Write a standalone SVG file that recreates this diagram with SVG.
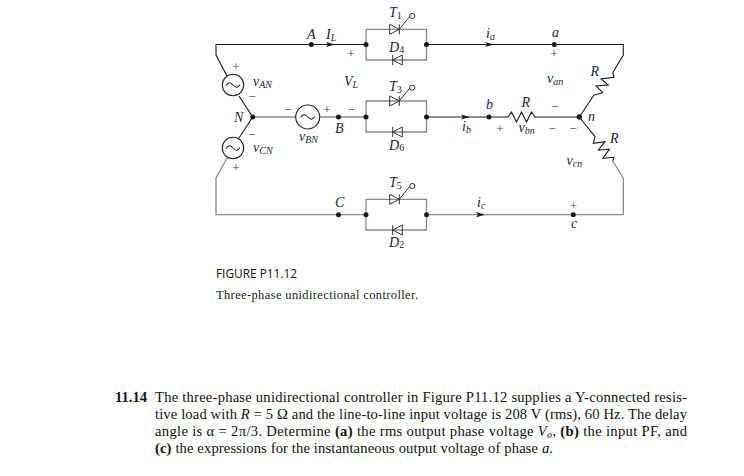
<svg xmlns="http://www.w3.org/2000/svg" width="744" height="476" viewBox="0 0 744 476">
<style>
.k{fill:none;stroke:#1a1a1a;stroke-width:1.1}
.g{fill:none;stroke:#8a8a8a;stroke-width:1.3}
.d{fill:#1a1a1a;stroke:none}
.src{fill:#fff;stroke:#222;stroke-width:1.1}
.dev{fill:none;stroke:#333;stroke-width:1}
text{font-family:"Liberation Serif",serif;fill:#1c2440}
.l{font-size:14px;font-style:italic}
.s{font-size:13px;fill:#444}
.sub{font-size:10px}
.cap{font-size:12.5px;fill:#222}
.fig{font-family:"Open Sans","Liberation Sans",sans-serif;font-size:12px;fill:#111}
.p{font-size:14.6px;fill:#111}
.b{font-weight:bold}
.i{font-style:italic}
</style>
<defs>
<g id="thy"><path class="dev" d="M-9.6-5L0 0L-9.6 5Z M0-5V5 M0 0L10.5-13"/><circle class="dev" cx="13" cy="-13.3" r="2.6"/></g>
<g id="dio"><path class="dev" d="M9.6-5L0 0L9.6 5Z M0-5V5"/></g>
<path id="til" d="M-7 0.5C-5 -3-2.5-3 0 0S5 3 7-0.5" fill="none" stroke="#222" stroke-width="1.1"/>
<path id="arr" d="M0-2.6L9 0L0 2.6L2 0Z" fill="#1a1a1a"/>
</defs>
<g id="connectors">
<path class="k" d="M366 44.5H216V55L227 76"/>
<path class="k" d="M426.5 44.5H623.3V55L612.7 72.7"/>
<path class="k" d="M594 95L579.3 117H537"/>
<path class="k" d="M426.5 117H508"/>
<path class="k" d="M239 96L252.7 117L239 138"/>
<path class="g" d="M252.7 117H296M320 117H366"/>
<path class="g" d="M227 158L216 178V214.7H366"/>
<path class="g" d="M426.5 214.7H623.3V178L612.7 161"/>
<path class="k" d="M579.3 117L595 136.7"/>
<path class="g" d="M366 29.3V60M366 29.3H426.5V60H366M366 101V132H426.5V101H366M366 199.3V230H426.5V199.3H366"/>
<path class="k" d="M508 117L511.5 112L516.5 122L521.5 112L526.5 122L531.5 112L535 117H537"/>
<path class="k" d="M612.7 72.7L614 77.3L601 79L608.3 85L596 86L602.7 92.7L594 95"/>
<path class="k" d="M595 136.7L593.3 143.3L605 141.7L598.3 150L609.3 149.3L602.7 158.3L614 157.3L612.7 161"/>
</g>
<g id="arrows">
<use href="#arr" x="326" y="44.5"/><use href="#arr" x="485" y="44.5"/><use href="#arr" x="461" y="117"/><use href="#arr" x="476" y="214.7"/>
</g>
<g id="vAN"><circle class="src" cx="233" cy="85" r="10.7"/><use href="#til" x="233" y="85"/></g>
<g id="vBN"><circle class="src" cx="307.7" cy="117" r="12"/><use href="#til" x="307.7" y="117"/></g>
<g id="vCN"><circle class="src" cx="233" cy="148" r="10.7"/><use href="#til" x="233" y="148"/></g>
<g id="T1"><use href="#thy" x="399.3" y="29.3"/></g>
<g id="D4"><use href="#dio" x="392.7" y="60"/></g>
<g id="T3"><use href="#thy" x="399.3" y="101"/></g>
<g id="D6"><use href="#dio" x="392.7" y="132"/></g>
<g id="T5"><use href="#thy" x="399.3" y="199.3"/></g>
<g id="D2"><use href="#dio" x="392.7" y="230"/></g>
<g id="dots">
<circle class="d" cx="311.3" cy="44.5" r="2.5"/><circle class="d" cx="366" cy="44.5" r="2.5"/><circle class="d" cx="426.5" cy="44.5" r="2.5"/><circle class="d" cx="554.3" cy="44.5" r="2.5"/>
<circle class="d" cx="252.7" cy="117" r="2.5"/><circle class="d" cx="338.5" cy="117" r="2.5"/><circle class="d" cx="366" cy="117" r="2.5"/><circle class="d" cx="426.5" cy="117" r="2.5"/><circle class="d" cx="489" cy="117" r="2.5"/><circle class="d" cx="579.3" cy="117" r="2.7"/>
<circle class="d" cx="338.5" cy="214.7" r="2.5"/><circle class="d" cx="366" cy="214.7" r="2.5"/><circle class="d" cx="426.5" cy="214.7" r="2.5"/><circle class="d" cx="573.3" cy="214.7" r="2.5"/>
</g>
<g id="labels">
<text class="l" x="307" y="39">A</text>
<text class="l" x="326" y="39">I<tspan class="sub" dy="2">L</tspan></text>
<text class="l" x="389" y="17">T<tspan class="sub" dy="2" font-style="normal">1</tspan></text>
<text class="l" x="389" y="52">D<tspan class="sub" dy="1" font-style="normal">4</tspan></text>
<text class="l" x="344" y="86">V<tspan class="sub" dy="2">L</tspan></text>
<text class="l" x="389" y="91">T<tspan class="sub" dy="2" font-style="normal">3</tspan></text>
<text class="l" x="389" y="150">D<tspan class="sub" dy="1" font-style="normal">6</tspan></text>
<text class="l" x="389" y="187">T<tspan class="sub" dy="2" font-style="normal">5</tspan></text>
<text class="l" x="389" y="247">D<tspan class="sub" dy="1" font-style="normal">2</tspan></text>
<text class="l" x="253" y="86">v<tspan class="sub" dy="2">AN</tspan></text>
<text class="l" x="234" y="122">N</text>
<text class="l" x="253" y="152">v<tspan class="sub" dy="2">CN</tspan></text>
<text class="l" x="299" y="141">v<tspan class="sub" dy="2">BN</tspan></text>
<text class="l" x="335" y="133">B</text>
<text class="l" x="335" y="207">C</text>
<text class="l" x="486" y="38">i<tspan class="sub" dy="2">a</tspan></text>
<text class="l" x="552" y="37">a</text>
<text class="l" x="547" y="83">v<tspan class="sub" dy="2">an</tspan></text>
<text class="l" x="590.5" y="76">R</text>
<text class="l" x="486" y="109">b</text>
<text class="l" x="521.5" y="107">R</text>
<text class="l" x="588" y="121">n</text>
<text class="l" x="462" y="131">i<tspan class="sub" dy="2">b</tspan></text>
<text class="l" x="518.5" y="132">v<tspan class="sub" dy="2">bn</tspan></text>
<text class="l" x="610" y="143">R</text>
<text class="l" x="566.5" y="165">v<tspan class="sub" dy="2">cn</tspan></text>
<text class="l" x="477" y="207">i<tspan class="sub" dy="2">c</tspan></text>
<text class="l" x="571" y="228">c</text>
<g text-anchor="middle">
<text class="s" x="351" y="58">+</text>
<text class="s" x="236" y="71">+</text>
<text class="s" x="252" y="101">−</text>
<text class="s" x="252" y="139">−</text>
<text class="s" x="236" y="172">+</text>
<text class="s" x="288" y="114">−</text>
<text class="s" x="327" y="114">+</text>
<text class="s" x="351" y="114">−</text>
<text class="s" x="554" y="58">+</text>
<text class="s" x="554.7" y="111">−</text>
<text class="s" x="500" y="133">+</text>
<text class="s" x="552" y="133">−</text>
<text class="s" x="573" y="133">−</text>
<text class="s" x="573.3" y="210">+</text>
</g>
</g>
<g id="caption">
<text class="fig" x="216" y="278" textLength="81" lengthAdjust="spacingAndGlyphs">FIGURE P11.12</text>
<text class="cap" x="216" y="299" textLength="202">Three-phase unidirectional controller.</text>
</g>
<g id="problem">
<text class="p b" x="115" y="402">11.14</text>
<text class="p" x="155" y="402" textLength="532">The three-phase unidirectional controller in Figure P11.12 supplies a Y-connected resis-</text>
<text class="p" x="155" y="419" textLength="532">tive load with <tspan class="i">R</tspan> = 5 Ω and the line-to-line input voltage is 208 V (rms), 60 Hz. The delay</text>
<text class="p" x="155" y="436" textLength="532">angle is α = 2π/3. Determine <tspan class="b">(a)</tspan> the rms output phase voltage <tspan class="i">V</tspan><tspan class="i" font-size="10" dy="2">o</tspan><tspan dy="-2">,</tspan> <tspan class="b">(b)</tspan> the input PF, and</text>
<text class="p" x="155" y="453" textLength="398"><tspan class="b">(c)</tspan> the expressions for the instantaneous output voltage of phase <tspan class="i">a</tspan>.</text>
</g>
</svg>
